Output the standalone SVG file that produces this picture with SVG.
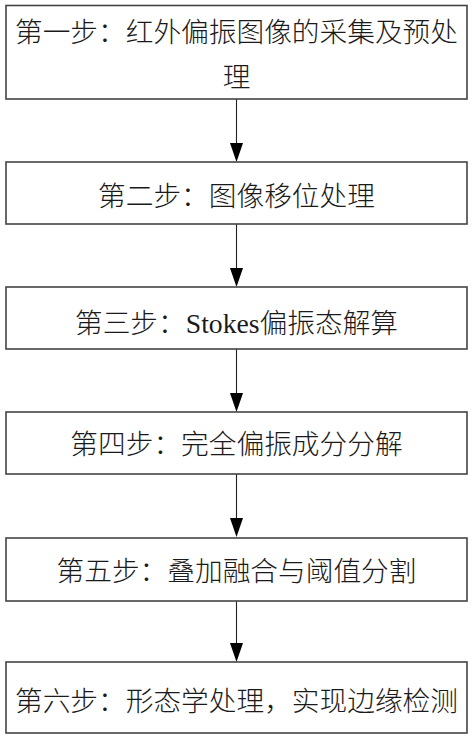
<svg xmlns="http://www.w3.org/2000/svg" width="474" height="740" viewBox="0 0 474 740">
<style>
.box{fill:#fff;stroke:#444;stroke-width:1.6}
.t{font-family:"Liberation Serif","Noto Sans CJK SC",serif;font-size:27.7px;font-weight:300;fill:#1a1a1a;text-anchor:middle}
.c{stroke:#222;stroke-width:1.1;fill:none}
.ah{fill:#000}
</style>
<rect width="474" height="740" fill="#fff"/>
<g id="connectors">
<line class="c" x1="236.5" y1="99" x2="236.5" y2="143"/>
<path class="ah" d="M230,143 L243,143 L236.5,162 Z"/>
<line class="c" x1="236.5" y1="224" x2="236.5" y2="268"/>
<path class="ah" d="M230,268 L243,268 L236.5,287 Z"/>
<line class="c" x1="236.5" y1="349" x2="236.5" y2="393"/>
<path class="ah" d="M230,393 L243,393 L236.5,412 Z"/>
<line class="c" x1="236.5" y1="474" x2="236.5" y2="518"/>
<path class="ah" d="M230,518 L243,518 L236.5,537 Z"/>
<line class="c" x1="236.5" y1="601" x2="236.5" y2="643"/>
<path class="ah" d="M230,643 L243,643 L236.5,662 Z"/>
</g>
<g id="step1">
<rect class="box" x="6" y="5.5" width="461" height="93.5"/>
<text class="t" x="236.5" y="41.5">第一步：红外偏振图像的采集及预处</text>
<text class="t" x="236.5" y="86.5">理</text>
</g>
<g id="step2">
<rect class="box" x="6" y="162" width="461" height="62"/>
<text class="t" x="236.5" y="205.5">第二步：图像移位处理</text>
</g>
<g id="step3">
<rect class="box" x="6" y="287" width="461" height="62"/>
<text class="t" x="236.5" y="332.5">第三步：Stokes偏振态解算</text>
</g>
<g id="step4">
<rect class="box" x="6" y="412" width="461" height="62"/>
<text class="t" x="236.5" y="453.5">第四步：完全偏振成分分解</text>
</g>
<g id="step5">
<rect class="box" x="6" y="538" width="461" height="63"/>
<text class="t" x="236.5" y="580.5">第五步：叠加融合与阈值分割</text>
</g>
<g id="step6">
<rect class="box" x="6" y="662" width="461" height="71"/>
<text class="t" x="236.5" y="710.5">第六步：形态学处理，实现边缘检测</text>
</g>
</svg>
